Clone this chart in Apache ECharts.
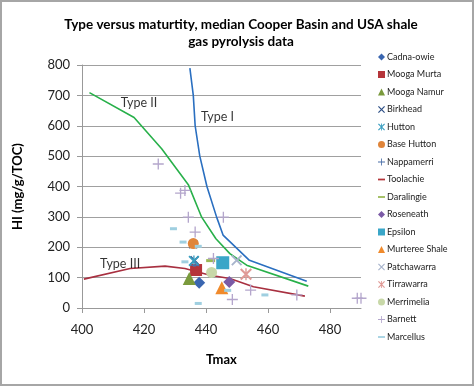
<!DOCTYPE html>
<html><head><meta charset="utf-8">
<script src="https://cdn.jsdelivr.net/npm/echarts@6/dist/echarts.min.js"></script>
<style>
html,body{margin:0;padding:0;background:#fff;}
#frame{position:absolute;left:0;top:0;width:470px;height:382px;border:2px solid #a6a6a6;}
#c{position:absolute;left:0;top:0;width:474px;height:386px;}
</style></head><body>
<div id="frame"></div>
<div id="c"></div>
<script>
// ---- data ----
const typeI   = [[434.8,790],[435.9,700],[436.5,600],[438,500],[440.3,400],[443.4,300],[445.5,240],[454,157],[472.5,88]];
const typeII  = [[402.4,709],[416.8,627],[425.7,524],[434.3,406],[438.6,299],[443.2,228],[447.7,179],[453.1,141],[473,72]];
const typeIII = [[400.6,95],[415.5,130],[426.8,138],[433.2,130],[441.3,108],[447.7,97],[455.3,70],[471.9,39]];
const curveLabels = [["Type I",443.7,630],["Type II",418.4,675],["Type III",412.3,144]];

const cadnaOwie    = [[437.8,83]];
const moogaMurta   = [[436.8,125]];
const moogaNamur   = [[434.6,97]];
const birkhead     = [[436.3,157],[435.9,210]];
const hutton       = [[436.1,155]];
const baseHutton   = [[435.9,212]];
const nappamerri   = [[436.5,140]];
const toolachie    = [[437.2,130]];
const daralingie   = [[441.5,156]];
const roseneath    = [[447.5,86]];
const epsilon      = [[445.4,149]];
const murtereeShale= [[445.1,67]];
const patchawarra  = [[449.9,157]];
const tirrawarra   = [[452.9,111]];
const merrimelia   = [[441.8,117]];
const barnett      = [[424.6,474],[431.8,378],[433.2,387],[434.3,299],[445.6,299],[436.5,250],[442.4,163],[454.4,59],[448.5,28],[469.3,43],[488.8,32],[490,32]];
const marcellus    = [[429.5,261],[432.6,217],[437.5,203],[433.2,152],[447,58],[459,43],[437.5,15]];

const xTicks = [400,420,440,460,480];
const yTicks = [0,100,200,300,400,500,600,700,800];

// ---- symbols ----
const X_PATH = 'path://M0,1.2L1.2,0L10,8.8L8.8,10Z M8.8,0L10,1.2L1.2,10L0,8.8Z';
const PLUS_PATH = 'path://M4.4,0h1.2v10h-1.2z M0,4.4h10v1.2h-10z';
const STAR_PATH = 'path://M0,1.2L1.2,0L10,8.8L8.8,10Z M8.8,0L10,1.2L1.2,10L0,8.8Z M4.4,0h1.2v10h-1.2z';
const DASH_ICON = 'path://M0,4h10v2.5h-10z';

function sc(name, data, color, symbol, size, icon){
  return {type:'scatter', name, data, symbol, symbolSize:size,
    itemStyle:{color, opacity:1}, z:3, _icon: icon || (typeof symbol==='string'?symbol:undefined)};
}
const scatterSeries = [
  sc('Cadna-owie', cadnaOwie, '#3a66b0', 'diamond', 12),
  sc('Mooga Murta', moogaMurta, '#b5353a', 'rect', 12),
  sc('Mooga Namur', moogaNamur, '#7a9a3c', 'triangle', 13),
  sc('Birkhead', birkhead, '#2d4f86', X_PATH, 9),
  sc('Hutton', hutton, '#3a9ec0', STAR_PATH, 11),
  sc('Base Hutton', baseHutton, '#e0853a', 'circle', 11),
  sc('Nappamerri', nappamerri, '#4a6fa8', PLUS_PATH, 8),
  sc('Toolachie', toolachie, '#b5353a', 'rect', [7,3], DASH_ICON),
  sc('Daralingie', daralingie, '#9ab854', 'rect', [9,3], DASH_ICON),
  sc('Roseneath', roseneath, '#7b5aa6', 'diamond', 12),
  sc('Epsilon', epsilon, '#3aa6c8', 'rect', 13),
  sc('Murteree Shale', murtereeShale, '#f08a2c', 'triangle', 13),
  sc('Patchawarra', patchawarra, '#a8b4cc', X_PATH, 11),
  sc('Tirrawarra', tirrawarra, '#e09a96', STAR_PATH, 12),
  sc('Merrimelia', merrimelia, '#c8d8a8', 'circle', 11),
  sc('Barnett', barnett, '#b4a6cc', PLUS_PATH, 11),
  sc('Marcellus', marcellus, '#9fcfe0', 'rect', [7,3], DASH_ICON)
];
const legendData = scatterSeries.map(s=>({name:s.name, icon:s._icon}));
scatterSeries.forEach(s=>delete s._icon);

const lineSeries = [
  {type:'line', data:typeI, symbol:'none', lineStyle:{color:'#2a6fc0', width:1.6}, z:2, silent:true},
  {type:'line', data:typeII, symbol:'none', lineStyle:{color:'#28b04a', width:1.6}, z:2, silent:true},
  {type:'line', data:typeIII, symbol:'none', lineStyle:{color:'#a83040', width:1.6}, z:2, silent:true},
  {type:'scatter', data:curveLabels.map(l=>({name:l[0], value:[l[1],l[2]]})), symbolSize:0,
   label:{show:true, position:'inside', formatter:p=>p.name, color:'#000', fontSize:12.5, fontFamily:'Lato'}, z:4, silent:true}
];

const chart = echarts.init(document.getElementById('c'), null, {renderer:'canvas'});
chart.setOption({
  animation:false,
  backgroundColor:'transparent',
  title:{text:'Type versus maturtity, median Cooper Basin and USA shale\ngas pyrolysis data', left:236, textAlign:'center', top:11,
    textStyle:{fontFamily:'Lato', fontWeight:'bold', fontSize:13.5, lineHeight:17, color:'#000'}},
  grid:{left:82, right:113, top:65, bottom:78},
  xAxis:{type:'value', min:400, max:490, interval:20, name:'Tmax', nameLocation:'middle', nameGap:45,
    nameTextStyle:{fontFamily:'Lato', fontWeight:'bold', fontSize:13, color:'#000'},
    axisLine:{show:true, lineStyle:{color:'#999', width:1}},
    axisTick:{show:true, length:5, lineStyle:{color:'#999'}},
    splitLine:{show:false},
    axisLabel:{fontFamily:'Lato', fontSize:13, color:'#222', margin:15, showMaxLabel:false,
      formatter:v=>xTicks.includes(v)?String(v):''}},
  yAxis:{type:'value', min:0, max:800, interval:100, name:'HI (mg/g/TOC)', nameLocation:'middle', nameGap:58,
    nameTextStyle:{fontFamily:'Lato', fontWeight:'bold', fontSize:13, color:'#000'},
    axisLine:{show:true, lineStyle:{color:'#999', width:1}},
    axisTick:{show:true, length:5, lineStyle:{color:'#999'}},
    splitLine:{show:true, lineStyle:{color:'#a0a0a0', width:1}},
    axisLabel:{fontFamily:'Lato', fontSize:13, color:'#222', margin:12,
      formatter:v=>yTicks.includes(v)?String(v):''}},
  legend:{orient:'vertical', left:373, top:47, itemWidth:7, itemHeight:7, itemGap:7.5,
    data:legendData,
    textStyle:{fontFamily:'Lato', fontSize:9, lineHeight:10, color:'#222', padding:[0,0,0,-3]}},
  series:[...lineSeries, ...scatterSeries]
});
</script>
</body></html>
